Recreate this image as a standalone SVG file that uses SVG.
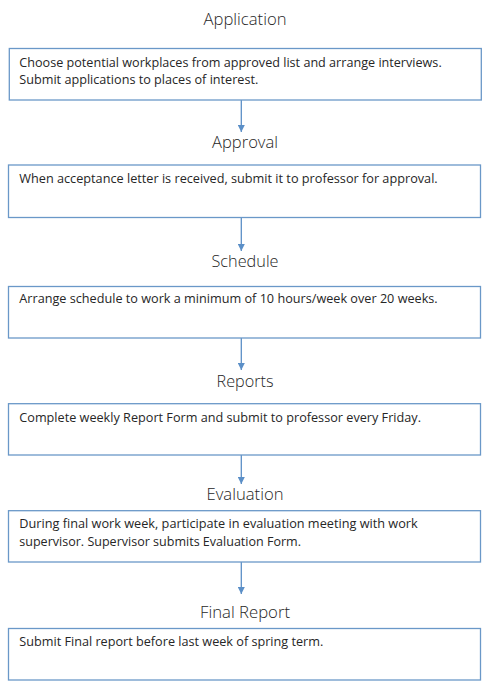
<svg xmlns="http://www.w3.org/2000/svg" width="495" height="694" viewBox="0 0 495 694">
<style>
.box{fill:#fff;stroke:#6a98c8;stroke-width:1.3}
.h{font-family:"Open Sans","Liberation Sans",sans-serif;font-size:17px;fill:#262626;text-anchor:middle;font-weight:300}
.t{font-family:"Open Sans","Liberation Sans",sans-serif;font-size:12px;fill:#262626}
.c{stroke:#5b8fc7;stroke-width:1.3;fill:none}
</style>
<defs>
<marker id="ah" markerWidth="8" markerHeight="7" refX="7" refY="3.5" orient="auto" markerUnits="userSpaceOnUse">
<path d="M0,0 L7,3.5 L0,7 Z" fill="#5b8fc7"/>
</marker>
</defs>
<rect width="495" height="694" fill="#fff"/>
<g id="connectors">
<line class="c" x1="241.3" y1="100" x2="241.3" y2="132" marker-end="url(#ah)"/>
<line class="c" x1="241.3" y1="218" x2="241.3" y2="251" marker-end="url(#ah)"/>
<line class="c" x1="241.3" y1="338" x2="241.3" y2="370" marker-end="url(#ah)"/>
<line class="c" x1="241.3" y1="455" x2="241.3" y2="484" marker-end="url(#ah)"/>
<line class="c" x1="241.3" y1="562" x2="241.3" y2="594" marker-end="url(#ah)"/>
</g>
<g id="application">
<text class="h" x="245" y="25" textLength="83" lengthAdjust="spacingAndGlyphs">Application</text>
<rect class="box" x="9.3" y="48.5" width="472" height="51.5"/>
<text class="t" x="19.3" y="66.7" textLength="422.4" lengthAdjust="spacingAndGlyphs">Choose potential workplaces from approved list and arrange interviews.</text>
<text class="t" x="19.3" y="84.3" textLength="239" lengthAdjust="spacingAndGlyphs">Submit applications to places of interest.</text>
</g>
<g id="approval">
<text class="h" x="245" y="148.3" textLength="66" lengthAdjust="spacingAndGlyphs">Approval</text>
<rect class="box" x="8.5" y="165" width="472" height="52.5"/>
<text class="t" x="19.3" y="182.7" textLength="418.4" lengthAdjust="spacingAndGlyphs">When acceptance letter is received, submit it to professor for approval.</text>
</g>
<g id="schedule">
<text class="h" x="245" y="266.7" textLength="67" lengthAdjust="spacingAndGlyphs">Schedule</text>
<rect class="box" x="8.5" y="286.5" width="472" height="51.5"/>
<text class="t" x="19.3" y="303.3" textLength="418.4" lengthAdjust="spacingAndGlyphs">Arrange schedule to work a minimum of 10 hours/week over 20 weeks.</text>
</g>
<g id="reports">
<text class="h" x="245" y="386.7" textLength="57" lengthAdjust="spacingAndGlyphs">Reports</text>
<rect class="box" x="8.5" y="403.7" width="472" height="51.3"/>
<text class="t" x="19.3" y="421.7" textLength="401.7" lengthAdjust="spacingAndGlyphs">Complete weekly Report Form and submit to professor every Friday.</text>
</g>
<g id="evaluation">
<text class="h" x="245" y="500" textLength="77" lengthAdjust="spacingAndGlyphs">Evaluation</text>
<rect class="box" x="8.5" y="510.7" width="472" height="51.3"/>
<text class="t" x="19.3" y="528.3" textLength="398.4" lengthAdjust="spacingAndGlyphs">During final work week, participate in evaluation meeting with work</text>
<text class="t" x="19.3" y="546" textLength="281.7" lengthAdjust="spacingAndGlyphs">supervisor. Supervisor submits Evaluation Form.</text>
</g>
<g id="final-report">
<text class="h" x="245" y="618" textLength="90" lengthAdjust="spacingAndGlyphs">Final Report</text>
<rect class="box" x="8.5" y="628.5" width="472" height="51.5"/>
<text class="t" x="19.3" y="645.7" textLength="304" lengthAdjust="spacingAndGlyphs">Submit Final report before last week of spring term.</text>
</g>
</svg>
